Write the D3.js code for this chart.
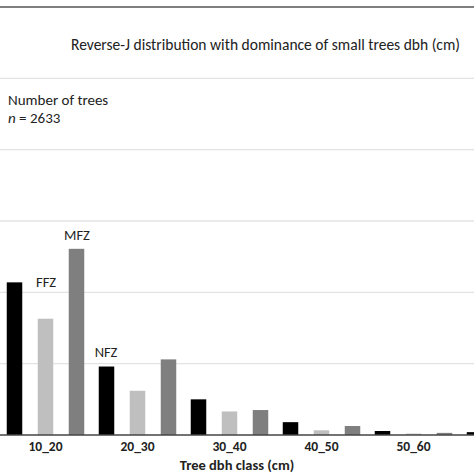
<!DOCTYPE html>
<html><head><meta charset="utf-8">
<script src="https://cdn.jsdelivr.net/npm/d3@7"></script>
<style>body{margin:0;background:#fff}svg{display:block}</style>
</head><body><svg id="c" width="474" height="474"></svg>
<script>
const categories = ["10_20","20_30","30_40","40_50","50_60","60_70"];
const series = ["NFZ","FFZ","MFZ"];
const NFZ = [214, 96, 50, 18, 5.6, 4];
const FFZ = [163, 62, 33, 6.6, 2, 1.5];
const MFZ = [261, 106, 35, 12.6, 3, 2];
const yTicks = [0,100,200,300,400,500,600];
const colors = {NFZ:"#000000", FFZ:"#bfbfbf", MFZ:"#7f7f7f"};
const vals = {NFZ, FFZ, MFZ};

const svg = d3.select("#c");
const font = "Carlito, Calibri, 'Liberation Sans', Arial, sans-serif";
const y = d3.scaleLinear().domain([0,600]).range([435,7]);
const x = d3.scaleBand().domain(categories).range([-0.5, 551.5]).padding(0);

svg.append("g").selectAll("line").data(yTicks.slice(1,-1)).join("line")
  .attr("x1",0).attr("x2",474).attr("y1",d=>y(d)).attr("y2",d=>y(d))
  .attr("stroke","#e3e3e3").attr("stroke-width",1.3);
svg.append("line").attr("x1",0).attr("x2",474).attr("y1",y(600)).attr("y2",y(600))
  .attr("stroke","#555").attr("stroke-width",1.5);

const bw = 15.5;
const offs = {NFZ:-31, FFZ:0, MFZ:31};
series.forEach(s=>{
  svg.append("g").selectAll("rect").data(categories).join("rect")
    .attr("x",(c)=>x(c)+x.bandwidth()/2+offs[s]-bw/2)
    .attr("width",bw)
    .attr("y",(c,i)=>y(vals[s][i]))
    .attr("height",(c,i)=>y(0)-y(vals[s][i]))
    .attr("fill",colors[s]);
});

const ax = svg.append("g").attr("transform","translate(0,435)")
  .call(d3.axisBottom(x).tickSize(0).tickPadding(6));
ax.select(".domain").attr("stroke","#444").attr("stroke-width",1.5).attr("d","M0,0H474");
ax.selectAll("text").attr("font-family",font).attr("font-size",13.5).attr("font-weight","bold").attr("fill","#222");
ax.selectAll(".tick").filter(d=>d==="60_70").select("text").remove();

svg.append("text").attr("x",237).attr("y",470).attr("text-anchor","middle")
  .attr("font-family",font).attr("font-size",14.5).attr("font-weight","bold").attr("fill","#222")
  .text("Tree dbh class (cm)");

const lab = [["MFZ",77,y(261)-9],["FFZ",46,y(163)-32],["NFZ",106,y(96)-10]];
svg.append("g").selectAll("text").data(lab).join("text")
  .attr("x",d=>d[1]).attr("y",d=>d[2]).attr("text-anchor","middle")
  .attr("font-family",font).attr("font-size",14.5).attr("fill","#222").text(d=>d[0]);

svg.append("text").attr("x",71).attr("y",50).attr("font-family",font).attr("font-size",15.5)
  .attr("fill","#222").attr("textLength",389).text("Reverse-J distribution with dominance of small trees dbh (cm)");
svg.append("text").attr("x",8).attr("y",105).attr("font-family",font).attr("font-size",15)
  .attr("fill","#222").text("Number of trees");
const t = svg.append("text").attr("x",8).attr("y",123).attr("font-family",font).attr("font-size",15).attr("fill","#222");
t.append("tspan").attr("font-style","italic").text("n");
t.append("tspan").text(" = 2633");
</script></body></html>
